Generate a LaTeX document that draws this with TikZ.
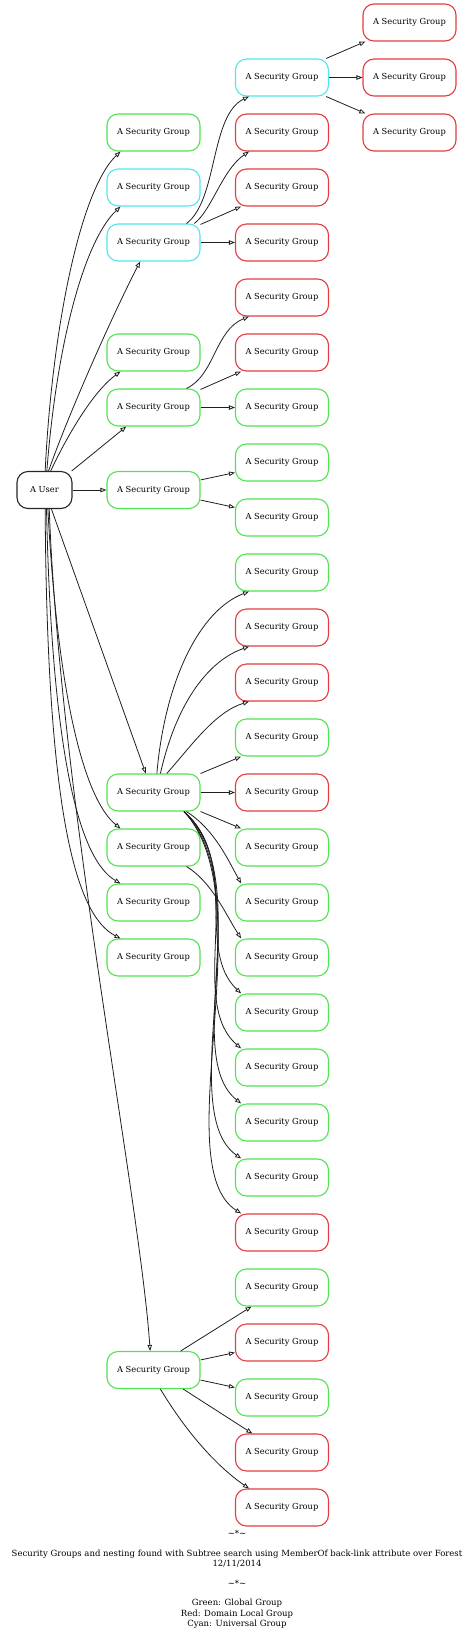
\documentclass[tikz,border=0pt]{standalone}
\usepackage{fontspec}
\setmainfont{DejaVu Serif}
\usetikzlibrary{arrows.meta}
\definecolor{gg}{RGB}{80,228,80}
\definecolor{rr}{RGB}{228,60,64}
\definecolor{cc}{RGB}{80,230,238}
\tikzset{
  grp/.style={draw, rounded corners=11pt, minimum width=93pt, minimum height=37pt, inner sep=0pt, font=\fontsize{8.3}{10}\selectfont, line width=1.1pt},
  gn/.style={grp, draw=gg},
  rn/.style={grp, draw=rr},
  cn/.style={grp, draw=cc},
  usr/.style={grp, draw=black!85, minimum width=55pt},
  edge/.style={draw=black!88, line width=0.8pt, -{Triangle[open, length=6pt, width=4.5pt]}},
  foot/.style={align=center, font=\fontsize{8.5}{10.5}\selectfont, inner sep=0pt}
}
\begin{document}
\begin{tikzpicture}[x=1pt, y=-1pt]
\path[use as bounding box] (0,0) rectangle (474,1638);
% user
\node[usr] (u) at (44.5,490) {A User};
% column 2
\node[gn] (c2r2) at (153.5,132.5) {A Security Group};
\node[cn] (c2r3) at (153.5,187.5) {A Security Group};
\node[cn] (c2r4) at (153.5,242.5) {A Security Group};
\node[gn] (c2r6) at (153.5,352.5) {A Security Group};
\node[gn] (c2r7) at (153.5,407.5) {A Security Group};
\node[gn] (c2r85) at (153.5,490) {A Security Group};
\node[gn] (c2r14) at (153.5,792.5) {A Security Group};
\node[gn] (c2r15) at (153.5,847.5) {A Security Group};
\node[gn] (c2r16) at (153.5,902.5) {A Security Group};
\node[gn] (c2r17) at (153.5,957.5) {A Security Group};
\node[gn] (c2r245) at (153.5,1370) {A Security Group};
% column 3
\node[cn] (c3r1) at (282,77.5) {A Security Group};
\node[rn] (c3r2) at (282,132.5) {A Security Group};
\node[rn] (c3r3) at (282,187.5) {A Security Group};
\node[rn] (c3r4) at (282,242.5) {A Security Group};
\node[rn] (c3r5) at (282,297.5) {A Security Group};
\node[rn] (c3r6) at (282,352.5) {A Security Group};
\node[gn] (c3r7) at (282,407.5) {A Security Group};
\node[gn] (c3r8) at (282,462.5) {A Security Group};
\node[gn] (c3r9) at (282,517.5) {A Security Group};
\node[gn] (c3r10) at (282,572.5) {A Security Group};
\node[rn] (c3r11) at (282,627.5) {A Security Group};
\node[rn] (c3r12) at (282,682.5) {A Security Group};
\node[gn] (c3r13) at (282,737.5) {A Security Group};
\node[rn] (c3r14) at (282,792.5) {A Security Group};
\node[gn] (c3r15) at (282,847.5) {A Security Group};
\node[gn] (c3r16) at (282,902.5) {A Security Group};
\node[gn] (c3r17) at (282,957.5) {A Security Group};
\node[gn] (c3r18) at (282,1012.5) {A Security Group};
\node[gn] (c3r19) at (282,1067.5) {A Security Group};
\node[gn] (c3r20) at (282,1122.5) {A Security Group};
\node[gn] (c3r21) at (282,1177.5) {A Security Group};
\node[rn] (c3r22) at (282,1232.5) {A Security Group};
\node[gn] (c3r23) at (282,1287.5) {A Security Group};
\node[rn] (c3r24) at (282,1342.5) {A Security Group};
\node[gn] (c3r25) at (282,1397.5) {A Security Group};
\node[rn] (c3r26) at (282,1452.5) {A Security Group};
\node[rn] (c3r27) at (282,1507.5) {A Security Group};
% column 4
\node[rn] (c4r0) at (409.5,22.5) {A Security Group};
\node[rn] (c4r1) at (409.5,77.5) {A Security Group};
\node[rn] (c4r2) at (409.5,132.5) {A Security Group};
% user edges
\draw[edge] (u.88) .. controls (52,330) and (80,190) .. (c2r2.210);
\draw[edge] (u.83) .. controls (57,340) and (85,240) .. (c2r3.210);
\draw[edge] (u.78) .. controls (70,410) and (115,310) .. (c2r4.235);
\draw[edge] (u.72) .. controls (70,430) and (95,390) .. (c2r6.210);
\draw[edge] (u.35) -- (c2r7.215);
\draw[edge] (u) -- (c2r85);
\draw[edge] (u.-70) -- (c2r14.112);
\draw[edge] (u.-80) .. controls (58,700) and (85,800) .. (c2r15.150);
\draw[edge] (u.-84) .. controls (52,760) and (80,860) .. (c2r16.150);
\draw[edge] (u.-88) .. controls (47,810) and (75,915) .. (c2r17.150);
\draw[edge] (u.-76) .. controls (60,800) and (140,1200) .. (c2r245.100);
% c2r4 edges
\draw[edge] (c2r4.30) .. controls (218,200) and (210,115) .. (c3r1.210);
\draw[edge] (c2r4.25) .. controls (212,210) and (222,170) .. (c3r2.210);
\draw[edge] (c2r4.21) -- (c3r3.205);
\draw[edge] (c2r4) -- (c3r4);
% c3r1 edges
\draw[edge] (c3r1) -- (c4r0);
\draw[edge] (c3r1) -- (c4r1);
\draw[edge] (c3r1) -- (c4r2);
% c2r7 edges
\draw[edge] (c2r7.30) .. controls (215,375) and (215,330) .. (c3r5.210);
\draw[edge] (c2r7.21) -- (c3r6.205);
\draw[edge] (c2r7) -- (c3r7);
% c2r85 edges
\draw[edge] (c2r85) -- (c3r8);
\draw[edge] (c2r85) -- (c3r9);
% c2r14 edges
\draw[edge] (c2r14.80) .. controls (165,680) and (200,610) .. (c3r10.210);
\draw[edge] (c2r14.70) .. controls (177,700) and (210,660) .. (c3r11.210);
\draw[edge] (c2r14.55) .. controls (192,745) and (215,712) .. (c3r12.210);
\draw[edge] (c2r14.22) -- (c3r13.205);
\draw[edge] (c2r14) -- (c3r14);
\draw[edge] (c2r14.-22) -- (c3r15.155);
\draw[edge] (c2r14.-30) .. controls (215,830) and (228,860) .. (c3r16.155);
\draw[edge] (c2r14.-32) .. controls (240,860) and (195,950) .. (c3r18.155);
\draw[edge] (c2r14.-32) .. controls (250,870) and (185,1000) .. (c3r19.155);
\draw[edge] (c2r14.-32) .. controls (258,880) and (180,1055) .. (c3r20.155);
\draw[edge] (c2r14.-32) .. controls (262,890) and (172,1110) .. (c3r21.155);
\draw[edge] (c2r14.-32) .. controls (266,900) and (165,1165) .. (c3r22.155);
% c2r15 edge
\draw[edge] (c2r15.-30) .. controls (212,882) and (226,915) .. (c3r17.155);
% c2r245 edges
\draw[edge] (c2r245.35) -- (c3r23.212);
\draw[edge] (c2r245) -- (c3r24);
\draw[edge] (c2r245) -- (c3r25);
\draw[edge] (c2r245) -- (c3r26);
\draw[edge] (c2r245.-70) .. controls (185,1430) and (215,1465) .. (c3r27.150);
% footer
\node[foot] (t1) at (237,1533) {\textasciitilde*\textasciitilde};
\node[foot] (t2) at (237,1558.5) {Security Groups and nesting found with Subtree search using MemberOf back-link attribute over Forest\\12/11/2014};
\node[foot] (t3) at (237,1583) {\textasciitilde*\textasciitilde};
\node[foot] (t4) at (237,1614) {Green: Global Group\\Red: Domain Local Group\\Cyan: Universal Group};
\end{tikzpicture}
\end{document}
